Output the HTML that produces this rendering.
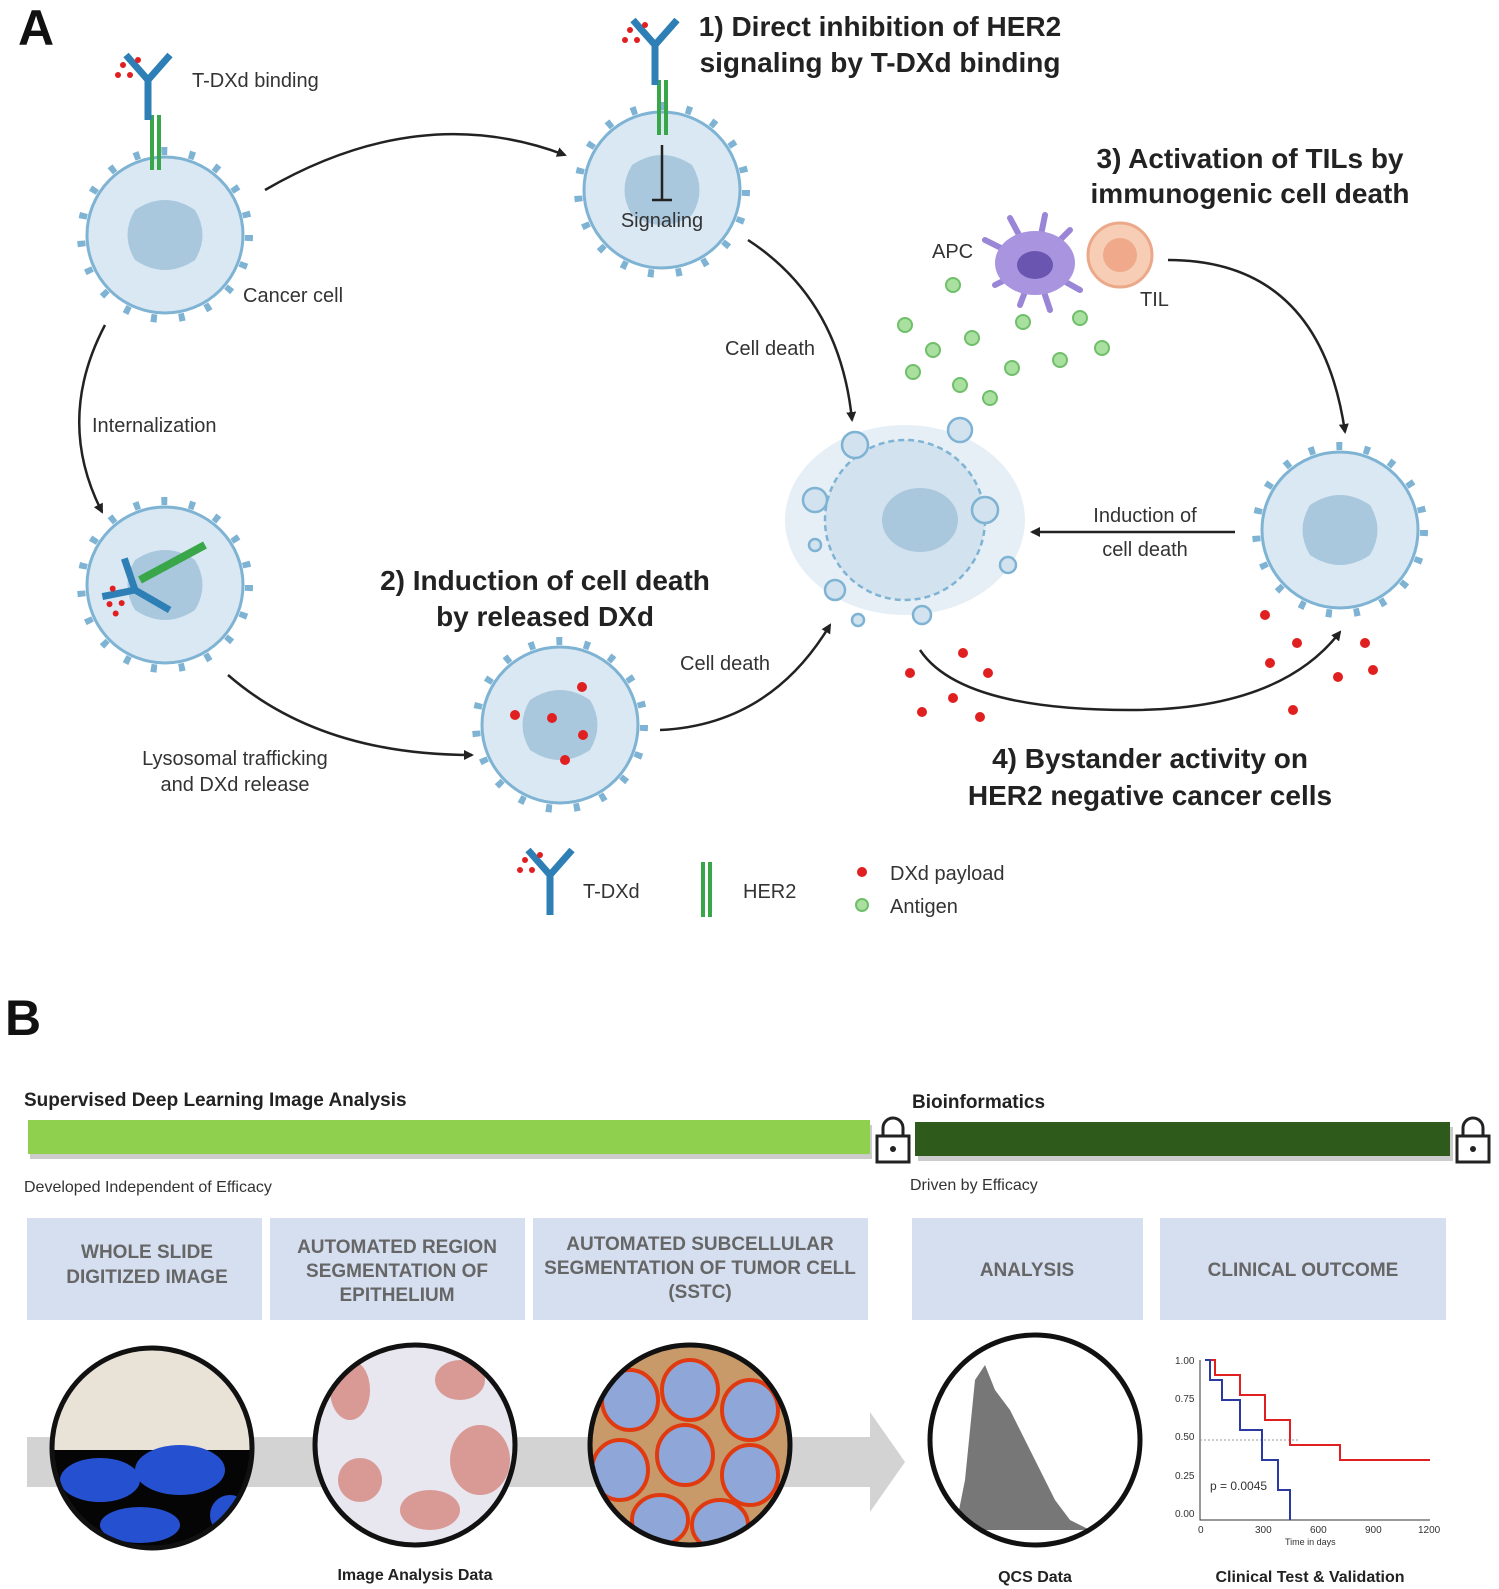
<!DOCTYPE html>
<html><head><meta charset="utf-8">
<style>
html,body{margin:0;padding:0;background:#fff;}
svg{display:block;font-family:"Liberation Sans",Arial,sans-serif;}
.lbl{font-size:20px;fill:#333;}
.h{font-size:28px;font-weight:bold;fill:#222;text-anchor:middle;}
.box{fill:#d5dff0;}
.bt{font-size:19px;font-weight:bold;fill:#666;text-anchor:middle;}
</style></head><body>
<svg width="1499" height="1589" viewBox="0 0 1499 1589" xmlns="http://www.w3.org/2000/svg">
<defs>
<marker id="ar" markerWidth="10" markerHeight="10" refX="8" refY="5" orient="auto" markerUnits="userSpaceOnUse">
<path d="M0,0 L10,5 L0,10 z" fill="#222"/></marker>
<g id="cell">
<circle r="78" fill="#d9e8f2" stroke="#7fb3d3" stroke-width="3"/>
<circle r="84" fill="none" stroke="#7fb3d3" stroke-width="8" stroke-dasharray="6 22"/>
<path d="M-30,-25 Q0,-45 30,-25 Q45,0 30,25 Q0,45 -30,25 Q-45,0 -30,-25z" fill="#a9c8de"/>
</g>
<g id="ab">
<path d="M0,0 L0,40 M0,0 L-22,-25 M0,0 L22,-25" stroke="#2d7fb5" stroke-width="7" fill="none"/>
<circle cx="-25" cy="-15" r="3" fill="#e02020"/><circle cx="-18" cy="-5" r="3" fill="#e02020"/><circle cx="-30" cy="-5" r="3" fill="#e02020"/>
<circle cx="-10" cy="-20" r="3" fill="#e02020"/>
</g>
<g id="her">
<rect x="-5" y="0" width="4" height="55" fill="#3aa64a"/><rect x="2" y="0" width="4" height="55" fill="#3aa64a"/>
</g>
</defs>

<text x="18" y="45" font-size="50" font-weight="bold" fill="#111">A</text>

<!-- cell 1 -->
<use href="#cell" x="165" y="235"/>
<use href="#her" x="155" y="115"/>
<use href="#ab" x="148" y="80"/>
<text class="lbl" x="192" y="87">T-DXd binding</text>
<text class="lbl" x="243" y="302">Cancer cell</text>

<!-- cell 2 -->
<use href="#cell" x="662" y="190"/>
<use href="#her" x="662" y="80"/>
<use href="#ab" x="655" y="45"/>
<path d="M662,145 L662,200 M652,200 L672,200" stroke="#222" stroke-width="2.5"/>
<text class="lbl" x="662" y="227" text-anchor="middle">Signaling</text>
<text class="h" x="880" y="36">1) Direct inhibition of HER2</text>
<text class="h" x="880" y="72">signaling by T-DXd binding</text>

<path d="M265,190 Q420,100 565,155" stroke="#222" stroke-width="2.5" fill="none" marker-end="url(#ar)"/>
<path d="M105,325 Q55,420 102,512" stroke="#222" stroke-width="2.5" fill="none" marker-end="url(#ar)"/>
<text class="lbl" x="92" y="432">Internalization</text>

<!-- cell 3 -->
<use href="#cell" x="165" y="585"/>
<path d="M140,580 L205,545" stroke="#3aa64a" stroke-width="8"/>
<use href="#ab" x="135" y="590" transform="rotate(-60 135 590)"/>

<text class="h" x="545" y="590">2) Induction of cell death</text>
<text class="h" x="545" y="626">by released DXd</text>

<path d="M228,675 Q320,755 472,755" stroke="#222" stroke-width="2.5" fill="none" marker-end="url(#ar)"/>
<text class="lbl" x="235" y="765" text-anchor="middle">Lysosomal trafficking</text>
<text class="lbl" x="235" y="791" text-anchor="middle">and DXd release</text>

<!-- cell 4 -->
<use href="#cell" x="560" y="725"/>
<g fill="#e02020"><circle cx="515" cy="715" r="5"/><circle cx="582" cy="687" r="5"/><circle cx="552" cy="718" r="5"/><circle cx="583" cy="735" r="5"/><circle cx="565" cy="760" r="5"/></g>

<path d="M660,730 Q770,725 830,625" stroke="#222" stroke-width="2.5" fill="none" marker-end="url(#ar)"/>
<text class="lbl" x="680" y="670">Cell death</text>

<path d="M748,240 Q840,300 852,420" stroke="#222" stroke-width="2.5" fill="none" marker-end="url(#ar)"/>
<text class="lbl" x="725" y="355">Cell death</text>

<!-- dead cell -->
<ellipse cx="905" cy="520" rx="120" ry="95" fill="#e6eff6"/>
<circle cx="905" cy="520" r="80" fill="#d2e3ef" stroke="#7fb3d3" stroke-width="2.5" stroke-dasharray="6 4"/>
<ellipse cx="920" cy="520" rx="38" ry="32" fill="#a9c8de"/>
<g fill="#d2e3ef" stroke="#7fb3d3" stroke-width="2.5">
<circle cx="855" cy="445" r="13"/><circle cx="960" cy="430" r="12"/><circle cx="815" cy="500" r="12"/><circle cx="985" cy="510" r="13"/><circle cx="1008" cy="565" r="8"/><circle cx="835" cy="590" r="10"/><circle cx="922" cy="615" r="9"/><circle cx="815" cy="545" r="6"/><circle cx="858" cy="620" r="6"/></g>

<text class="h" x="1250" y="168">3) Activation of TILs by</text>
<text class="h" x="1250" y="203">immunogenic cell death</text>
<!-- APC -->
<g stroke="#9a86d6" stroke-width="6" stroke-linecap="round">
<path d="M1035,265 L985,240 M1035,265 L995,285 M1035,265 L1010,218 M1035,265 L1045,215 M1035,265 L1070,230 M1035,265 L1080,290 M1035,265 L1020,305 M1035,265 L1050,310"/></g>
<ellipse cx="1035" cy="263" rx="40" ry="32" fill="#a994e0"/>
<ellipse cx="1035" cy="265" rx="18" ry="14" fill="#6a56b0"/>
<circle cx="1120" cy="255" r="32" fill="#f8cdb5" stroke="#eba98a" stroke-width="3"/>
<circle cx="1120" cy="255" r="17" fill="#f0a98a"/>
<text class="lbl" x="932" y="258">APC</text>
<text class="lbl" x="1140" y="306">TIL</text>
<g fill="#a9e0a0" stroke="#6fbf6a" stroke-width="2">
<circle cx="953" cy="285" r="7"/><circle cx="905" cy="325" r="7"/><circle cx="933" cy="350" r="7"/><circle cx="972" cy="338" r="7"/><circle cx="1023" cy="322" r="7"/><circle cx="1080" cy="318" r="7"/><circle cx="913" cy="372" r="7"/><circle cx="960" cy="385" r="7"/><circle cx="1012" cy="368" r="7"/><circle cx="1060" cy="360" r="7"/><circle cx="1102" cy="348" r="7"/><circle cx="990" cy="398" r="7"/></g>

<path d="M1168,260 Q1320,260 1345,432" stroke="#222" stroke-width="2.5" fill="none" marker-end="url(#ar)"/>

<!-- cell 5 -->
<use href="#cell" x="1340" y="530"/>
<path d="M1235,532 L1032,532" stroke="#222" stroke-width="2.5" marker-end="url(#ar)"/>
<text class="lbl" x="1145" y="522" text-anchor="middle">Induction of</text>
<text class="lbl" x="1145" y="556" text-anchor="middle">cell death</text>

<g fill="#e02020"><circle cx="910" cy="673" r="5"/><circle cx="963" cy="653" r="5"/><circle cx="988" cy="673" r="5"/><circle cx="953" cy="698" r="5"/><circle cx="922" cy="712" r="5"/><circle cx="980" cy="717" r="5"/>
<circle cx="1265" cy="615" r="5"/><circle cx="1297" cy="643" r="5"/><circle cx="1270" cy="663" r="5"/><circle cx="1365" cy="643" r="5"/><circle cx="1338" cy="677" r="5"/><circle cx="1373" cy="670" r="5"/><circle cx="1293" cy="710" r="5"/></g>
<path d="M920,650 Q960,710 1130,710 Q1280,710 1340,632" stroke="#222" stroke-width="2.5" fill="none" marker-end="url(#ar)"/>
<text class="h" x="1150" y="768">4) Bystander activity on</text>
<text class="h" x="1150" y="805">HER2 negative cancer cells</text>

<!-- legend -->
<use href="#ab" x="550" y="875" transform="scale(1)"/>
<use href="#her" x="706" y="862"/>
<text class="lbl" x="583" y="898" font-size="23">T-DXd</text>
<text class="lbl" x="743" y="898" font-size="23">HER2</text>
<circle cx="862" cy="872" r="5" fill="#e02020"/>
<circle cx="862" cy="905" r="6" fill="#a9e0a0" stroke="#6fbf6a" stroke-width="2"/>
<text class="lbl" x="890" y="880" font-size="23">DXd payload</text>
<text class="lbl" x="890" y="913" font-size="23">Antigen</text>

<!-- Panel B -->
<text x="5" y="1035" font-size="50" font-weight="bold" fill="#111">B</text>
<text x="24" y="1106" font-size="19" font-weight="bold" fill="#222">Supervised Deep Learning Image Analysis</text>
<rect x="30" y="1125" width="842" height="34" fill="#999" opacity="0.5"/>
<rect x="28" y="1120" width="842" height="34" fill="#8fd14f"/>
<text x="912" y="1108" font-size="19" font-weight="bold" fill="#222">Bioinformatics</text>
<rect x="918" y="1127" width="535" height="34" fill="#999" opacity="0.5"/>
<rect x="915" y="1122" width="535" height="34" fill="#2e5a1c"/>
<g fill="none" stroke="#222" stroke-width="3">
<path d="M883,1136 v-8 a10,10 0 0 1 20,0 v8"/><rect x="877" y="1136" width="32" height="26" fill="#fff"/>
<path d="M1463,1136 v-8 a10,10 0 0 1 20,0 v8"/><rect x="1457" y="1136" width="32" height="26" fill="#fff"/></g>
<circle cx="893" cy="1149" r="3" fill="#222"/><circle cx="1473" cy="1149" r="3" fill="#222"/>
<text x="24" y="1192" font-size="16" fill="#333">Developed Independent of Efficacy</text>
<text x="910" y="1190" font-size="16" fill="#333">Driven by Efficacy</text>

<rect class="box" x="27" y="1218" width="235" height="102"/>
<rect class="box" x="270" y="1218" width="255" height="102"/>
<rect class="box" x="533" y="1218" width="335" height="102"/>
<rect class="box" x="912" y="1218" width="231" height="102"/>
<rect class="box" x="1160" y="1218" width="286" height="102"/>
<text class="bt" x="147" y="1258">WHOLE SLIDE</text>
<text class="bt" x="147" y="1283">DIGITIZED  IMAGE</text>
<text class="bt" x="397" y="1253">AUTOMATED REGION</text>
<text class="bt" x="397" y="1277">SEGMENTATION OF</text>
<text class="bt" x="397" y="1301">EPITHELIUM</text>
<text class="bt" x="700" y="1250">AUTOMATED SUBCELLULAR</text>
<text class="bt" x="700" y="1274">SEGMENTATION OF TUMOR CELL</text>
<text class="bt" x="700" y="1298">(SSTC)</text>
<text class="bt" x="1027" y="1276">ANALYSIS</text>
<text class="bt" x="1303" y="1276">CLINICAL OUTCOME</text>

<path d="M27,1437 H870 V1412 L905,1462 L870,1512 V1487 H27z" fill="#d3d3d3"/>

<!-- circles -->
<clipPath id="c1"><circle cx="152" cy="1448" r="100"/></clipPath>
<g clip-path="url(#c1)"><rect x="50" y="1345" width="205" height="105" fill="#e9e2d6"/><rect x="50" y="1450" width="205" height="100" fill="#050505"/>
<ellipse cx="100" cy="1480" rx="40" ry="22" fill="#2550d0"/><ellipse cx="180" cy="1470" rx="45" ry="25" fill="#2550d0"/><ellipse cx="140" cy="1525" rx="40" ry="18" fill="#2550d0"/><ellipse cx="230" cy="1515" rx="20" ry="20" fill="#2550d0"/></g>
<circle cx="152" cy="1448" r="100" fill="none" stroke="#111" stroke-width="5"/>

<clipPath id="c2"><circle cx="415" cy="1445" r="100"/></clipPath>
<g clip-path="url(#c2)"><rect x="310" y="1340" width="210" height="210" fill="#e8e6ef"/>
<g fill="#d99a95"><ellipse cx="350" cy="1390" rx="20" ry="30"/><ellipse cx="460" cy="1380" rx="25" ry="20"/><ellipse cx="480" cy="1460" rx="30" ry="35"/><ellipse cx="360" cy="1480" rx="22" ry="22"/><ellipse cx="430" cy="1510" rx="30" ry="20"/></g></g>
<circle cx="415" cy="1445" r="100" fill="none" stroke="#111" stroke-width="5"/>

<clipPath id="c3"><circle cx="690" cy="1445" r="100"/></clipPath>
<g clip-path="url(#c3)"><rect x="585" y="1340" width="210" height="210" fill="#c89a6a"/>
<g fill="#8fa7d8" stroke="#e03a10" stroke-width="4"><ellipse cx="630" cy="1400" rx="28" ry="30"/><ellipse cx="690" cy="1390" rx="28" ry="30"/><ellipse cx="750" cy="1410" rx="28" ry="30"/><ellipse cx="620" cy="1470" rx="28" ry="30"/><ellipse cx="685" cy="1455" rx="28" ry="30"/><ellipse cx="750" cy="1475" rx="28" ry="30"/><ellipse cx="660" cy="1520" rx="28" ry="25"/><ellipse cx="720" cy="1525" rx="28" ry="25"/></g></g>
<circle cx="690" cy="1445" r="100" fill="none" stroke="#111" stroke-width="5"/>

<clipPath id="c4"><circle cx="1035" cy="1440" r="105"/></clipPath>
<g clip-path="url(#c4)"><rect x="930" y="1335" width="210" height="210" fill="#fff"/>
<path d="M955,1530 L965,1480 L975,1380 L985,1365 L995,1390 L1010,1410 L1025,1440 L1040,1470 L1055,1500 L1070,1520 L1090,1530z" fill="#777"/></g>
<circle cx="1035" cy="1440" r="105" fill="none" stroke="#111" stroke-width="5"/>

<!-- KM plot -->
<g font-size="10" fill="#333">
<path d="M1200,1360 V1520 H1430" stroke="#333" fill="none"/>
<text x="1175" y="1364">1.00</text><text x="1175" y="1402">0.75</text><text x="1175" y="1440">0.50</text><text x="1175" y="1479">0.25</text><text x="1175" y="1517">0.00</text>
<text x="1198" y="1533">0</text><text x="1255" y="1533">300</text><text x="1310" y="1533">600</text><text x="1365" y="1533">900</text><text x="1418" y="1533">1200</text>
<text x="1285" y="1545" font-size="9">Time in days</text>
<text x="1210" y="1490" font-size="12">p = 0.0045</text>
<path d="M1200,1440 H1300" stroke="#999" stroke-dasharray="2 2" fill="none"/>
<path d="M1205,1360 H1215 V1375 H1240 V1395 H1265 V1420 H1290 V1445 H1340 V1460 H1430" stroke="#e02020" stroke-width="2" fill="none"/>
<path d="M1205,1360 H1210 V1380 H1222 V1400 H1240 V1430 H1262 V1460 H1278 V1490 H1290 V1520" stroke="#2a3aa0" stroke-width="2" fill="none"/>
</g>

<text x="415" y="1580" font-size="16" font-weight="bold" fill="#222" text-anchor="middle">Image Analysis Data</text>
<text x="1035" y="1582" font-size="16" font-weight="bold" fill="#222" text-anchor="middle">QCS Data</text>
<text x="1310" y="1582" font-size="16" font-weight="bold" fill="#222" text-anchor="middle">Clinical Test &amp; Validation</text>
</svg>
</body></html>
